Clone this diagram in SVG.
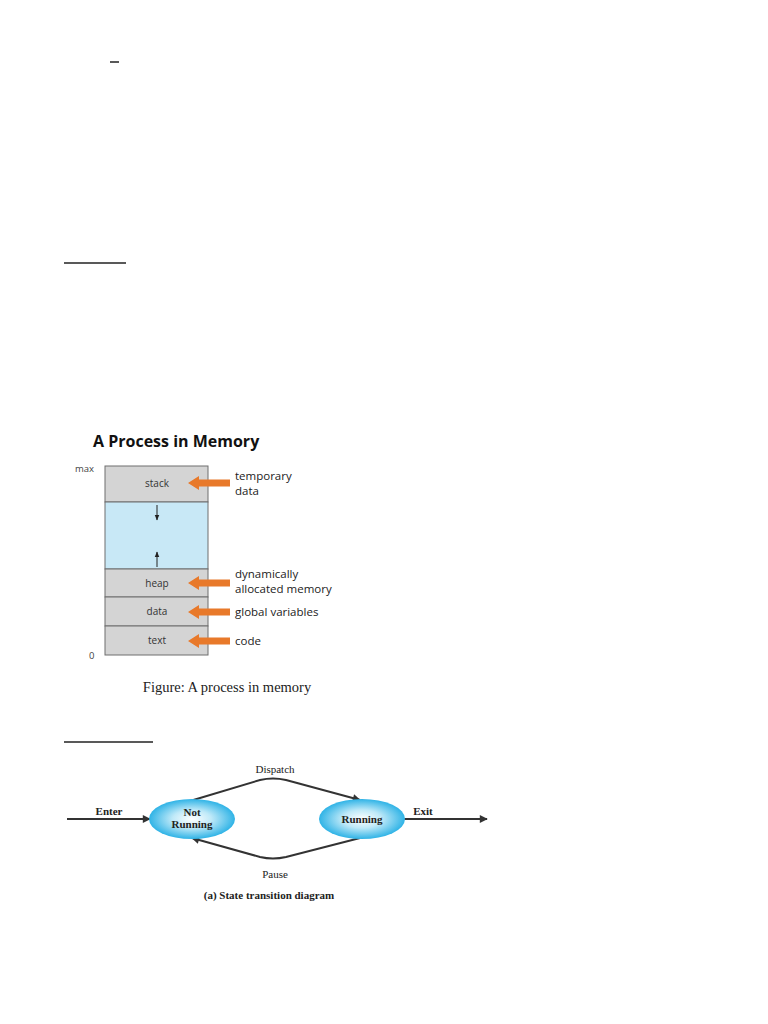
<svg xmlns="http://www.w3.org/2000/svg" width="768" height="1024" viewBox="0 0 768 1024">
<defs>
<style>
.seg{fill:#d4d4d4;stroke:#6e6e6e;stroke-width:1}
.lbl{font-family:"Open Sans","Liberation Sans",sans-serif;font-size:10px;fill:#333;text-anchor:middle}
.note{font-family:"Open Sans","Liberation Sans",sans-serif;font-size:11.5px;fill:#222}
.oarrow{fill:#e8792a}
.ser{font-family:"Liberation Serif",serif;fill:#222}
.edge{fill:none;stroke:#333;stroke-width:2}
.ul{stroke:#222;stroke-width:1.5}
</style>
<radialGradient id="g" cx="0.5" cy="0.5" r="0.5">
<stop offset="0" stop-color="#ffffff"/>
<stop offset="0.45" stop-color="#bfe9f8"/>
<stop offset="1" stop-color="#2fb3e6"/>
</radialGradient>
<marker id="ah" viewBox="0 0 10 10" refX="9" refY="5" markerWidth="5" markerHeight="4" orient="auto" markerUnits="strokeWidth">
<path d="M0,0 L10,5 L0,10 Z" fill="#333"/>
</marker>
<marker id="sa" viewBox="0 0 10 10" refX="9" refY="5" markerWidth="6" markerHeight="6" orient="auto">
<path d="M0,1 L10,5 L0,9 Z" fill="#222"/>
</marker>
</defs>
<rect width="768" height="1024" fill="#fff"/>
<line class="ul" x1="110" y1="62" x2="119" y2="62"/>
<line class="ul" x1="64" y1="263" x2="126" y2="263"/>
<line class="ul" x1="64" y1="742" x2="153" y2="742"/>

<g id="memory">
<text x="93" y="447" font-family="'Open Sans','Liberation Sans',sans-serif" font-weight="bold" font-size="16" fill="#111">A Process in Memory</text>
<text x="75" y="472" font-family="'Open Sans','Liberation Sans',sans-serif" font-size="9.5" fill="#444">max</text>
<text x="89" y="659" font-family="'Open Sans','Liberation Sans',sans-serif" font-size="9.5" fill="#444">0</text>
<g id="stack"><rect class="seg" x="105" y="466" width="103" height="36"/><text class="lbl" x="157" y="487">stack</text></g>
<g id="free"><rect x="105" y="502" width="103" height="67" fill="#c8e8f6" stroke="#6e6e6e"/>
<line x1="157" y1="505" x2="157" y2="520" stroke="#222" stroke-width="1" marker-end="url(#sa)"/>
<line x1="157" y1="567" x2="157" y2="552" stroke="#222" stroke-width="1" marker-end="url(#sa)"/></g>
<g id="heap"><rect class="seg" x="105" y="569" width="103" height="28"/><text class="lbl" x="157" y="587">heap</text></g>
<g id="data"><rect class="seg" x="105" y="597" width="103" height="29"/><text class="lbl" x="157" y="615">data</text></g>
<g id="text"><rect class="seg" x="105" y="626" width="103" height="29"/><text class="lbl" x="157" y="644">text</text></g>
<path class="oarrow" d="M188,483 L199,476 L199,479.5 L230,479.5 L230,486.5 L199,486.5 L199,490 Z"/>
<path class="oarrow" d="M188,583 L199,576 L199,579.5 L230,579.5 L230,586.5 L199,586.5 L199,590 Z"/>
<path class="oarrow" d="M188,612 L199,605 L199,608.5 L230,608.5 L230,615.5 L199,615.5 L199,619 Z"/>
<path class="oarrow" d="M188,641 L199,634 L199,637.5 L230,637.5 L230,644.5 L199,644.5 L199,648 Z"/>
<text class="note" x="235" y="480">temporary</text>
<text class="note" x="235" y="495">data</text>
<text class="note" x="235" y="578">dynamically</text>
<text class="note" x="235" y="593">allocated memory</text>
<text class="note" x="235" y="616">global variables</text>
<text class="note" x="235" y="645">code</text>
<text class="ser" x="227" y="692" font-size="14.5" text-anchor="middle">Figure: A process in memory</text>
</g>

<g id="connectors">
<line class="edge" x1="67" y1="819" x2="150" y2="819" marker-end="url(#ah)"/>
<line class="edge" x1="404" y1="819" x2="487" y2="819" marker-end="url(#ah)"/>
<path class="edge" d="M190,801 L260,780 Q273,777 286,780 L360,800" marker-end="url(#ah)"/>
<path class="edge" d="M360,838 L286,857 Q273,860 260,857 L192,838" marker-end="url(#ah)"/>
<text class="ser" x="109" y="815" font-size="11" font-weight="bold" text-anchor="middle">Enter</text>
<text class="ser" x="423" y="815" font-size="11" font-weight="bold" text-anchor="middle">Exit</text>
<text class="ser" x="275" y="773" font-size="11" text-anchor="middle">Dispatch</text>
<text class="ser" x="275" y="878" font-size="11" text-anchor="middle">Pause</text>
</g>
<g id="not-running">
<ellipse cx="192" cy="819" rx="43" ry="20" fill="url(#g)"/>
<text class="ser" x="192" y="816" font-size="11" font-weight="bold" text-anchor="middle">Not</text>
<text class="ser" x="192" y="828" font-size="11" font-weight="bold" text-anchor="middle">Running</text>
</g>
<g id="running">
<ellipse cx="362" cy="819" rx="43" ry="20" fill="url(#g)"/>
<text class="ser" x="362" y="823" font-size="11" font-weight="bold" text-anchor="middle">Running</text>
</g>
<text class="ser" x="269" y="899" font-size="11" font-weight="bold" text-anchor="middle">(a) State transition diagram</text>
</svg>
